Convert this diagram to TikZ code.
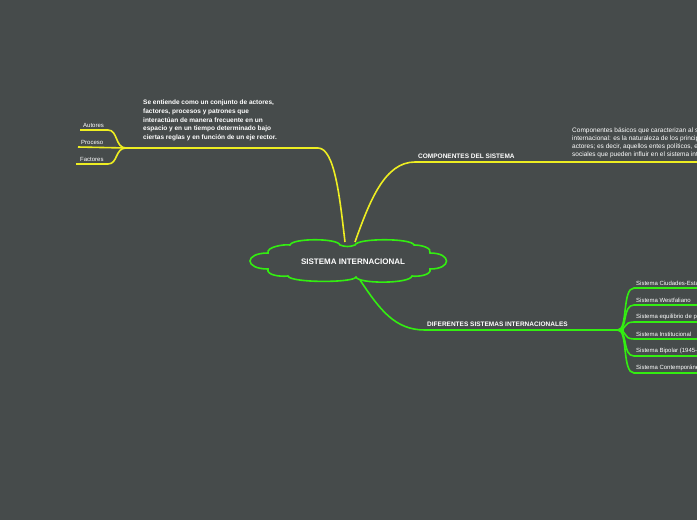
\documentclass[tikz,border=0pt]{standalone}
\usepackage{fontspec}
\setmainfont{Liberation Sans}
\definecolor{bg}{HTML}{464B4B}
\definecolor{gr}{HTML}{33EE11}
\definecolor{yl}{HTML}{EEEE22}
\begin{document}
\begin{tikzpicture}[x=1pt,y=-1pt,
  yline/.style={draw=yl,line width=1.6pt},
  gline/.style={draw=gr,line width=1.6pt},
  lbl/.style={text=white,font=\fontsize{6}{7}\selectfont,anchor=south west,inner sep=1pt},
  blbl/.style={text=white,font=\bfseries\fontsize{6.5}{7.5}\selectfont,anchor=south west,inner sep=1pt},
  para/.style={text=white,align=left,anchor=north west,inner sep=0pt}]
\fill[bg] (0,0) rectangle (697,520);
\clip (0,0) rectangle (697,520);
% yellow left branch
\coordinate (ltop) at (345,242);
\coordinate (lj) at (126,148);
\coordinate (la) at (80,130);
\coordinate (lp) at (78,147);
\coordinate (lf) at (76,164);
\draw[yline] (ltop) .. controls (340,200) and (335,148) .. (318,148) -- (lj);
\draw[yline] (lj) .. controls (115,148) and (118,130) .. (108,130) -- (la);
\draw[yline] (lj) -- (lp);
\draw[yline] (lj) .. controls (115,148) and (118,164) .. (108,164) -- (lf);
\node[para,font=\bfseries\fontsize{6.5}{8.6}\selectfont] (def) at (143,100) {Se entiende como un conjunto de actores,\\factores, procesos y patrones que\\interactúan de manera frecuente en un\\espacio y en un tiempo determinado bajo\\ciertas reglas y en función de un eje rector.};
\node[lbl] (aut) at (82,129) {Autores};
\node[lbl] (pro) at (80,146) {Proceso};
\node[lbl] (fac) at (79,163) {Factores};
% componentes
\coordinate (ctop) at (355,242);
\coordinate (ce) at (697,162);
\draw[yline] (ctop) .. controls (370,200) and (385,162) .. (415,162) -- (ce);
\node[blbl] (comp) at (417,160) {COMPONENTES DEL SISTEMA};
\node[para,font=\fontsize{6.5}{8}\selectfont] (ctext) at (572,128) {Componentes básicos que caracterizan al sistema\\internacional: es la naturaleza de los principales\\actores; es decir, aquellos entes políticos, económicos y\\sociales que pueden influir en el sistema internacional.};
% diferentes
\coordinate (dtop) at (360,280);
\coordinate (dj) at (618,330);
\draw[gline] (dtop) .. controls (380,310) and (395,330) .. (425,330) -- (dj);
\node[blbl] (dif) at (426,328) {DIFERENTES SISTEMAS INTERNACIONALES};
\foreach \y/\t [count=\i] in {288/{Sistema Ciudades-Estado},305/{Sistema Westfaliano},322/{Sistema equilibrio de poder},339/{Sistema Institucional},356/{Sistema Bipolar (1945-1991)},373/{Sistema Contemporáneo}}{
  \coordinate (e\i) at (697,\y);
  \draw[gline] (dj) .. controls (628,330) and (622,\y) .. (634,\y) -- (e\i);
  \node[lbl] (s\i) at (635,\y-1) {\t};
}
\draw[gline] (dj) -- (624,330);
% cloud
\draw[draw=gr,fill=bg,line width=1.6pt]
  (268,253) .. controls (266,247) and (284,244) .. (290,245)
  .. controls (292,238) and (338,238) .. (340,245)
  .. controls (345,247) and (350,247) .. (355,245)
  .. controls (357,238) and (412,238) .. (414,245)
  .. controls (422,245) and (432,248) .. (430,253)
  .. controls (452,253) and (452,269) .. (430,269)
  .. controls (432,275) and (418,277) .. (412,276)
  .. controls (410,284) and (358,284) .. (356,277)
  .. controls (354,283) and (290,283) .. (288,276)
  .. controls (280,277) and (266,275) .. (268,269)
  .. controls (244,269) and (244,253) .. (268,253) -- cycle;
\node[text=white,font=\bfseries\fontsize{8}{9}\selectfont] (root) at (353,262) {SISTEMA INTERNACIONAL};
\end{tikzpicture}
\end{document}
